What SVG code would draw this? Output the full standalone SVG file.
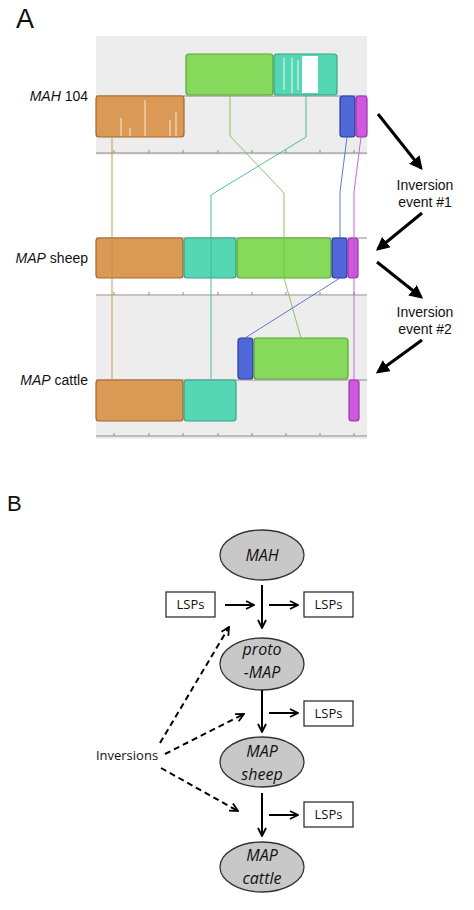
<svg xmlns="http://www.w3.org/2000/svg" width="474" height="910" viewBox="0 0 474 910">
<style>
.lbl{font-family:"Liberation Sans",Arial,sans-serif;font-size:14px;fill:#111}
.pl{font-family:"Liberation Sans",Arial,sans-serif;fill:#111}
.bt{font-family:"Open Sans","Liberation Sans",sans-serif;font-size:13px;fill:#111;text-anchor:middle}
.et{font-family:"Open Sans","Liberation Sans",sans-serif;font-size:16px;font-style:italic;fill:#111;text-anchor:middle}
.org{fill:#DA9A55;stroke:#A5662C;stroke-width:1.2}
.grn{fill:#86D95A;stroke:#5AA63A;stroke-width:1.2}
.tel{fill:#55D7B3;stroke:#36A485;stroke-width:1.2}
.blu{fill:#5068D8;stroke:#2B3A9E;stroke-width:1.2}
.mag{fill:#CF58DC;stroke:#9B33AD;stroke-width:1.2}
.axis{stroke:#8a8a8a;stroke-width:1;fill:none}
.cl{fill:none;stroke-width:0.9}
.big{stroke:#000;stroke-width:3;fill:none;marker-end:url(#ah)}
.ba{stroke:#000;stroke-width:2;fill:none;marker-end:url(#av)}
.da{stroke:#000;stroke-width:2;fill:none;stroke-dasharray:6,4;marker-end:url(#av)}
.box{fill:#fff;stroke:#222;stroke-width:1.2}
.ell{fill:#C8C8C8;stroke:#333;stroke-width:1.3}
</style>
<defs>
<marker id="ah" viewBox="0 0 10 10" refX="8" refY="5" markerWidth="4.5" markerHeight="4.5" orient="auto"><path d="M0,0 L10,5 L0,10 Z" fill="#000"/></marker>
<marker id="av" viewBox="0 0 10 10" refX="9" refY="5" markerWidth="5" markerHeight="5" orient="auto"><path d="M1,1 L9,5 L1,9" fill="none" stroke="#000" stroke-width="1.8"/></marker>
</defs>
<rect width="474" height="910" fill="#fff"/>
<text class="pl" x="16" y="28" font-size="27">A</text>
<text class="pl" x="7" y="511" font-size="22">B</text>

<g id="panelA-bg">
<rect x="96" y="36" width="271" height="119" fill="#EDEDED"/>
<rect x="96" y="296" width="271" height="143" fill="#EDEDED"/>
<line class="axis" x1="96" y1="96" x2="367" y2="96"/>
<line class="axis" x1="96" y1="153" x2="367" y2="153"/>
<line class="axis" x1="96" y1="238" x2="367" y2="238"/>
<line class="axis" x1="96" y1="295" x2="367" y2="295"/>
<line class="axis" x1="96" y1="380" x2="367" y2="380"/>
<line class="axis" x1="96" y1="436" x2="367" y2="436"/>
<path class="axis" d="M114,153v-3M149,153v-3M183,153v-3M218,153v-3M252,153v-3M286,153v-3M320,153v-3M354,153v-3M114,295v-3M149,295v-3M183,295v-3M218,295v-3M252,295v-3M286,295v-3M320,295v-3M354,295v-3M114,436v-3M149,436v-3M183,436v-3M218,436v-3M252,436v-3M286,436v-3M320,436v-3M354,436v-3"/>
</g>

<g id="labels-A">
<text class="lbl" x="88" y="101" text-anchor="end"><tspan font-style="italic">MAH</tspan> 104</text>
<text class="lbl" x="88" y="263" text-anchor="end"><tspan font-style="italic">MAP</tspan> sheep</text>
<text class="lbl" x="88" y="385" text-anchor="end"><tspan font-style="italic">MAP</tspan> cattle</text>
</g>

<g id="track-MAH104">
<rect class="org" x="96" y="96" width="88" height="41" rx="3"/>
<path d="M145,100v36M121,118v18M176,112v24M130,128v8M170,120v16" stroke="#fff" stroke-width="0.9" opacity="0.9"/>
<rect class="grn" x="186" y="54" width="87" height="41" rx="3"/>
<rect class="tel" x="274" y="54" width="63" height="41" rx="3"/>
<rect x="302" y="56" width="16" height="37" fill="#fff"/>
<path d="M284,58v32M292,58v35M298,60v30" stroke="#fff" stroke-width="0.9"/>
<rect class="blu" x="340" y="96" width="15" height="41" rx="3"/>
<rect class="mag" x="356" y="96" width="11" height="41" rx="3"/>
</g>

<g id="track-MAPsheep">
<rect class="org" x="96" y="238" width="87" height="40" rx="3"/>
<rect class="tel" x="184" y="238" width="52" height="40" rx="3"/>
<rect class="grn" x="237" y="238" width="94" height="40" rx="3"/>
<rect class="blu" x="332" y="238" width="15" height="40" rx="3"/>
<rect class="mag" x="348" y="238" width="10" height="40" rx="3"/>
</g>

<g id="track-MAPcattle">
<rect class="blu" x="238" y="338" width="15" height="41" rx="3"/>
<rect class="grn" x="254" y="338" width="94" height="41" rx="3"/>
<rect class="org" x="96" y="380" width="87" height="41" rx="3"/>
<rect class="tel" x="184" y="380" width="52" height="41" rx="3"/>
<rect class="mag" x="349" y="380" width="10" height="41" rx="3"/>
</g>

<g id="connectors-A">
<path class="cl" stroke="#C98A50" d="M112,137V380"/>
<path class="cl" stroke="#3FB596" d="M306,95V137L211,195V380"/>
<path class="cl" stroke="#7CC056" d="M230,95V136L284,193V278L301,338"/>
<path class="cl" stroke="#5068D0" d="M347,137L340,192V238M340,278L245,338"/>
<path class="cl" stroke="#C058D0" d="M361,137L354,192V380"/>
</g>

<g id="inversion-arrows">
<line class="big" x1="378" y1="114" x2="421" y2="168"/>
<text class="lbl" x="425" y="190" text-anchor="middle">Inversion</text>
<text class="lbl" x="425" y="207" text-anchor="middle">event #1</text>
<line class="big" x1="422" y1="213" x2="378" y2="249"/>
<line class="big" x1="377" y1="262" x2="421" y2="297"/>
<text class="lbl" x="425" y="317" text-anchor="middle">Inversion</text>
<text class="lbl" x="425" y="334" text-anchor="middle">event #2</text>
<line class="big" x1="422" y1="340" x2="378" y2="372"/>
</g>

<g id="node-MAH"><ellipse class="ell" cx="262" cy="555" rx="42" ry="25"/><text class="et" x="262" y="561" font-size="18">MAH</text></g>
<g id="node-LSPs-1"><rect class="box" x="166" y="592" width="49" height="25"/><text class="bt" x="190.5" y="609">LSPs</text></g>
<g id="node-LSPs-2"><rect class="box" x="304" y="592" width="49" height="25"/><text class="bt" x="328.5" y="609">LSPs</text></g>
<g id="node-protoMAP"><ellipse class="ell" cx="262" cy="664" rx="42" ry="26"/><text class="et" x="262" y="655">proto</text><text class="et" x="262" y="678">-MAP</text></g>
<g id="node-LSPs-3"><rect class="box" x="304" y="701" width="49" height="25"/><text class="bt" x="328.5" y="718">LSPs</text></g>
<g id="node-MAPsheep"><ellipse class="ell" cx="262" cy="762" rx="42" ry="25"/><text class="et" x="262" y="757">MAP</text><text class="et" x="262" y="780">sheep</text></g>
<g id="node-LSPs-4"><rect class="box" x="304" y="802" width="49" height="25"/><text class="bt" x="328.5" y="819">LSPs</text></g>
<g id="node-MAPcattle"><ellipse class="ell" cx="262" cy="867" rx="42" ry="25"/><text class="et" x="262" y="861">MAP</text><text class="et" x="262" y="884">cattle</text></g>
<g id="node-Inversions"><text class="bt" x="127" y="760">Inversions</text></g>

<g id="connectors-B">
<line class="ba" x1="262" y1="585" x2="262" y2="628"/>
<line class="ba" x1="225" y1="605" x2="254" y2="605"/>
<line class="ba" x1="269" y1="605" x2="298" y2="605"/>
<line class="ba" x1="262" y1="690" x2="262" y2="732"/>
<line class="ba" x1="269" y1="713" x2="298" y2="713"/>
<line class="ba" x1="262" y1="793" x2="262" y2="836"/>
<line class="ba" x1="269" y1="815" x2="298" y2="815"/>
<line class="da" x1="160" y1="743" x2="229" y2="627"/>
<line class="da" x1="165" y1="754" x2="244" y2="714"/>
<line class="da" x1="161" y1="768" x2="238" y2="811"/>
</g>
</svg>
